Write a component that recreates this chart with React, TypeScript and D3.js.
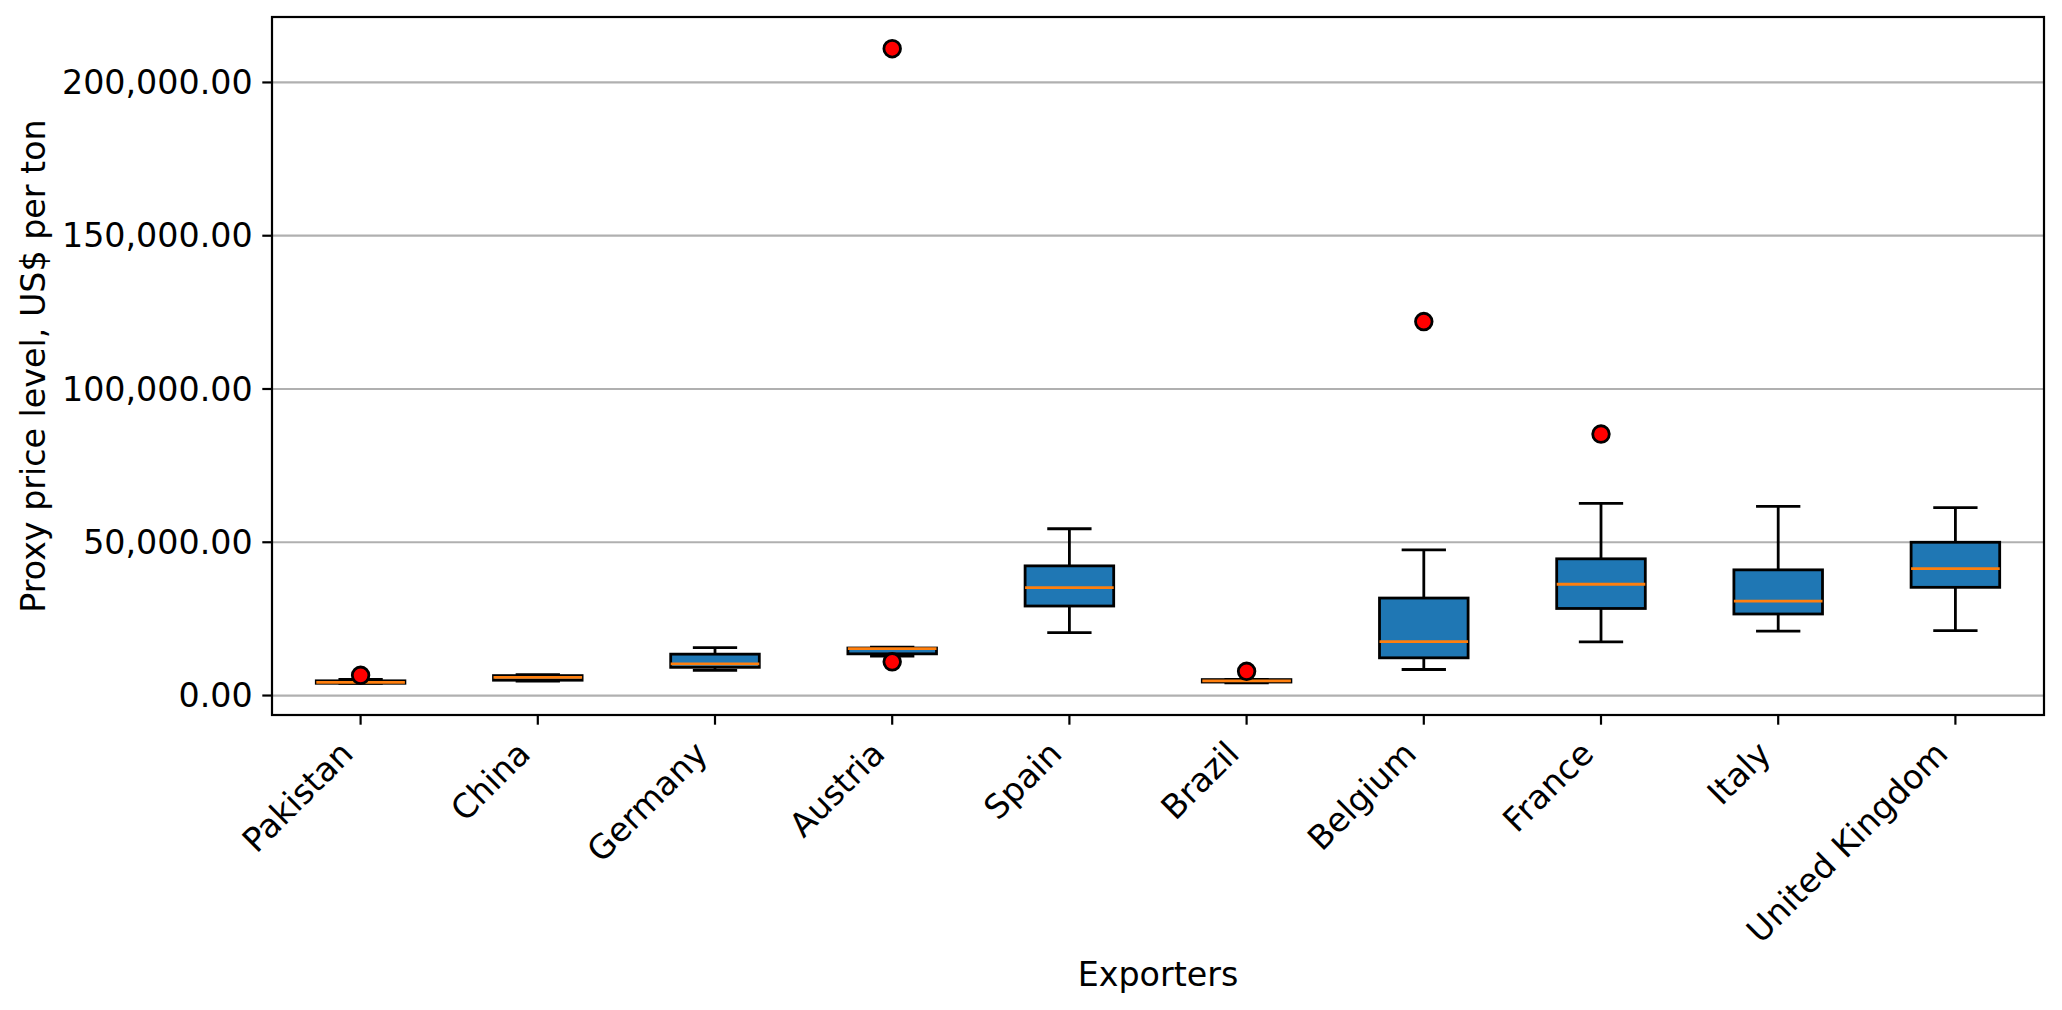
import * as d3 from 'd3'

// exporters, in plotting order
const exporters = [
  'Pakistan',
  'China',
  'Germany',
  'Austria',
  'Spain',
  'Brazil',
  'Belgium',
  'France',
  'Italy',
  'United Kingdom',
]

// box statistics, US$ per ton
const whiskerLow = [4000, 4700, 8200, 12900, 20500, 4100, 8500, 17500, 21000, 21200]
const q1 = [4000, 5000, 9200, 13600, 29200, 4400, 12300, 28400, 26600, 35300]
const median = [4300, 5900, 10300, 15300, 35200, 4800, 17600, 36300, 30800, 41400]
const q3 = [4800, 6500, 13500, 15500, 42300, 5200, 31800, 44600, 41000, 50000]
const whiskerHigh = [5300, 6800, 15600, 15800, 54400, 5300, 47500, 62700, 61700, 61300]
const outliers = [[6600], [], [], [11000, 211000], [], [7900], [122000], [85300], [], []]

const yTicks = [0, 50000, 100000, 150000, 200000]

const W = 2062
const H = 1010
const margin = { top: 17, right: 18, bottom: 295, left: 272 }
const innerW = W - margin.left - margin.right
const innerH = H - margin.top - margin.bottom

const FONT = 'DejaVu Sans, sans-serif'
const FS = 33.3
const TICK = 9.7
const PAD = 9.7

export default function App() {
  const allVals = [...whiskerLow, ...whiskerHigh, ...outliers.flat()]
  const lo = d3.min(allVals) as number
  const hi = d3.max(allVals) as number
  const span = hi - lo

  const y = d3
    .scaleLinear()
    .domain([lo - 0.05 * span, hi + 0.05 * span])
    .range([innerH, 0])

  const x = d3
    .scaleLinear()
    .domain([0.5, exporters.length + 0.5])
    .range([0, innerW])

  const boxW = x(1.5) - x(1)
  const capW = boxW / 2
  const fmt = d3.format(',.2f')

  return (
    <svg
      width={W}
      height={H}
      style={{ position: 'absolute', left: 0, top: 0, background: '#fff' }}
      fontFamily={FONT}
    >
      <g transform={`translate(${margin.left},${margin.top})`}>
        {/* grid */}
        {yTicks.map((t) => (
          <line
            key={'g' + t}
            x1={0}
            x2={innerW}
            y1={y(t)}
            y2={y(t)}
            stroke="#b0b0b0"
            strokeWidth={2.2}
          />
        ))}

        {/* boxes */}
        {exporters.map((name, i) => {
          const cx = x(i + 1)
          return (
            <g key={name}>
              <line x1={cx} x2={cx} y1={y(q1[i])} y2={y(whiskerLow[i])} stroke="#000" strokeWidth={2.8} />
              <line x1={cx} x2={cx} y1={y(q3[i])} y2={y(whiskerHigh[i])} stroke="#000" strokeWidth={2.8} />
              <line
                x1={cx - capW / 2}
                x2={cx + capW / 2}
                y1={y(whiskerLow[i])}
                y2={y(whiskerLow[i])}
                stroke="#000"
                strokeWidth={2.8}
              />
              <line
                x1={cx - capW / 2}
                x2={cx + capW / 2}
                y1={y(whiskerHigh[i])}
                y2={y(whiskerHigh[i])}
                stroke="#000"
                strokeWidth={2.8}
              />
              <rect
                x={cx - boxW / 2}
                y={y(q3[i])}
                width={boxW}
                height={y(q1[i]) - y(q3[i])}
                fill="#1f77b4"
                stroke="#000"
                strokeWidth={2.8}
              />
              <line
                x1={cx - boxW / 2}
                x2={cx + boxW / 2}
                y1={y(median[i])}
                y2={y(median[i])}
                stroke="#ff7f0e"
                strokeWidth={2.8}
              />
              {outliers[i].map((v, j) => (
                <circle key={j} cx={cx} cy={y(v)} r={8.3} fill="#ff0000" stroke="#000" strokeWidth={2.8} />
              ))}
            </g>
          )
        })}

        {/* frame */}
        <rect x={0} y={0} width={innerW} height={innerH} fill="none" stroke="#000" strokeWidth={2.2} />

        {/* y axis */}
        {yTicks.map((t) => (
          <g key={'y' + t} transform={`translate(0,${y(t)})`}>
            <line x1={-TICK} x2={0} stroke="#000" strokeWidth={2.2} />
            <text
              x={-TICK - PAD}
              dy="0.35em"
              textAnchor="end"
              fontSize={FS}
              fill="#000"
            >
              {fmt(t)}
            </text>
          </g>
        ))}

        {/* x axis */}
        {exporters.map((name, i) => {
          const cx = x(i + 1)
          const ax = cx - 5.6
          const ay = innerH + TICK + PAD + 21.3
          return (
            <g key={'x' + name}>
              <line x1={cx} x2={cx} y1={innerH} y2={innerH + TICK} stroke="#000" strokeWidth={2.2} />
              <text
                x={ax}
                y={ay}
                textAnchor="end"
                fontSize={FS}
                fill="#000"
                transform={`rotate(-45,${ax},${ay})`}
              >
                {name}
              </text>
            </g>
          )
        })}

        <text x={innerW / 2} y={986 - margin.top} textAnchor="middle" fontSize={FS} fill="#000">
          Exporters
        </text>
        <text
          transform={`translate(${33 - margin.left},${innerH / 2}) rotate(-90)`}
          dy="0.35em"
          textAnchor="middle"
          fontSize={FS}
          fill="#000"
        >
          Proxy price level, US$ per ton
        </text>
      </g>
    </svg>
  )
}
